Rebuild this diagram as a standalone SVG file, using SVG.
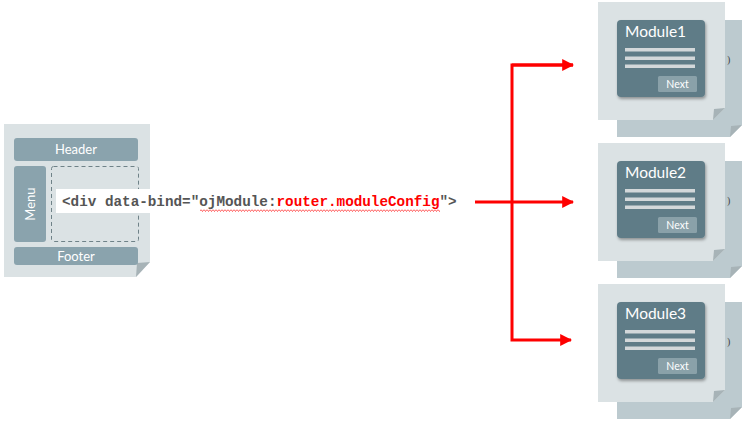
<svg xmlns="http://www.w3.org/2000/svg" width="746" height="422" viewBox="0 0 746 422">
<defs>
<style>
.bg{fill:#dbe2e4}
.back{fill:#bccacf}
.fold{fill:#a7b3b7}
.bar{fill:#8aa3ad}
.lbl{font-family:Lato,"Open Sans","Liberation Sans",sans-serif;font-size:13px;fill:#ffffff;text-anchor:middle}
.inner{fill:#5e7c87}
.line{fill:#d3d8da}
.btn{fill:#8aa1a9}
.title{font-family:Lato,"Open Sans","Liberation Sans",sans-serif;font-size:15.5px;fill:#ffffff}
.next{font-family:Lato,"Open Sans","Liberation Sans",sans-serif;font-size:10.5px;fill:#ffffff;text-anchor:middle}
.frag{font-family:"Liberation Serif",serif;font-size:10px;fill:#444}
.conn{stroke:#fe0000;stroke-width:3;fill:none}
.code{font-family:"Liberation Mono",monospace;font-weight:bold;font-size:14.3px;fill:#555}
</style>
<pattern id="wave" x="0" y="209" width="3" height="3" patternUnits="userSpaceOnUse">
<path d="M0,0.5 L1.5,2.5 L3,0.5" fill="none" stroke="#fe0000" stroke-width="0.8"/>
</pattern>
<marker id="ah" viewBox="0 0 10 10" refX="9" refY="5" markerWidth="4" markerHeight="4" orient="auto" markerUnits="strokeWidth">
<path d="M0,0 L10,5 L0,10 z" fill="#fe0000"/>
</marker>
<filter id="sh" x="-10%" y="-10%" width="130%" height="130%">
<feDropShadow dx="1" dy="2" stdDeviation="1.5" flood-color="#000" flood-opacity="0.35"/>
</filter>
<g id="modtpl">
<polygon class="back" points="617,20 742,20 742,125 730,137 617,137"/>
<polygon class="fold" points="742,125 730,137 731,126"/>
<text class="frag" x="727" y="63">)</text>
<text class="frag" x="631" y="121">’ ’</text>
<polygon class="bg" points="598,2 725,2 725,108 713,120 598,120"/>
<polygon class="fold" points="725,108 713,120 714,109"/>
<rect class="inner" x="617" y="20" width="88" height="77" rx="4" filter="url(#sh)"/>
<rect class="line" x="625" y="48" width="70" height="3.5"/>
<rect class="line" x="625" y="56.5" width="70" height="3.5"/>
<rect class="line" x="625" y="64.5" width="70" height="3.5"/>
<rect class="btn" x="658" y="76" width="39" height="16" rx="1.5"/>
<text class="next" x="677.5" y="88">Next</text>
</g>
</defs>

<g id="layout">
<polygon class="bg" points="4,124 150,124 150,262 136,277 4,277"/>
<polygon class="fold" points="150,262 136,277 137,263"/>
<rect class="bar" x="14" y="138" width="124" height="23" rx="3"/>
<text class="lbl" x="76" y="154">Header</text>
<rect class="bar" x="14" y="166" width="32" height="76" rx="3"/>
<text class="lbl" x="0" y="0" transform="translate(34.5,204) rotate(-90)">Menu</text>
<rect x="51.5" y="166.5" width="87" height="75" rx="2" fill="none" stroke="#6f8288" stroke-width="1" stroke-dasharray="4,3"/>
<rect class="bar" x="14" y="247" width="124" height="18" rx="3"/>
<text class="lbl" x="76" y="261">Footer</text>
</g>

<g id="code">
<rect x="56" y="189" width="409" height="24" fill="#ffffff"/>
<text class="code" x="62" y="206">&lt;div data-bind="ojModule:<tspan fill="#fe0000">router.moduleConfig</tspan>"&gt;</text>
<rect x="200" y="209" width="240" height="3" fill="url(#wave)" opacity="0.8"/>
</g>

<g id="module1">
<use href="#modtpl"/>
<text class="title" x="625" y="37">Module1</text>
</g>
<g id="module2">
<use href="#modtpl" transform="translate(0,141)"/>
<text class="title" x="625" y="178">Module2</text>
</g>
<g id="module3">
<use href="#modtpl" transform="translate(0,282)"/>
<text class="title" x="625" y="319">Module3</text>
</g>

<g id="connectors">
<line class="conn" x1="475" y1="202" x2="573" y2="202" marker-end="url(#ah)"/>
<polyline class="conn" points="573,65 512,65 512,340 571,340" marker-end="url(#ah)"/>
<line class="conn" x1="512" y1="65" x2="573" y2="65" marker-end="url(#ah)"/>
</g>
</svg>
